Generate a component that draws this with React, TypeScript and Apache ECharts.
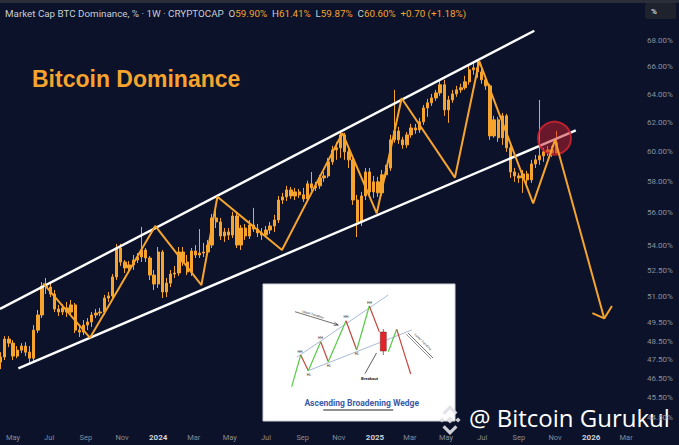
import React, { useEffect, useRef } from 'react';
import * as echarts from 'echarts';

// ---------- data ----------
const FIRST_WEEK = '2023-04-10';
const X_MIN = '2023-04-09';
const X_MAX = '2026-03-21';

const opens = [
  47.37, 47.64, 48.61, 48.39, 47.69, 48.01, 48.23, 47.90, 47.58, 49.10,
  49.94, 51.59, 51.53, 51.13, 50.28, 50.11, 50.34, 50.11, 50.51, 49.10,
  48.99, 49.38, 49.55, 49.94, 50.05, 50.11, 50.90, 51.02, 52.12, 53.84,
  53.00, 52.65, 52.83, 53.12, 53.30, 53.72, 53.24, 52.23, 51.71, 53.60,
  51.25, 51.76, 52.29, 52.35, 53.60, 53.00, 52.41, 53.66, 53.42, 53.54,
  53.60, 54.02, 55.69, 55.44, 54.57, 54.82, 54.63, 55.81, 54.02, 55.06,
  54.57, 55.25, 55.00, 54.76, 54.63, 54.94, 55.19, 55.56, 56.82, 57.02,
  57.47, 57.08, 57.34, 57.15, 56.89, 57.86, 57.60, 57.73, 58.25, 58.38,
  59.31, 60.11, 60.25, 61.13, 59.98, 59.44, 56.82, 55.44, 57.08, 58.64,
  57.34, 57.99, 57.28, 58.45, 58.90, 60.79, 61.40, 60.79, 60.45, 61.13,
  61.61, 61.47, 62.03, 63.01, 63.37, 63.72, 64.08, 64.67, 62.87, 63.58,
  64.01, 64.30, 64.45, 64.88, 65.76, 65.91, 65.61, 65.03, 64.59, 61.06,
  62.17, 60.93, 62.45, 60.25, 58.64, 58.38, 58.25, 58.51, 58.12, 59.17,
  59.44, 59.71, 59.98, 60.11, 59.90,
];
const closes = [
  47.64, 48.61, 48.39, 47.69, 48.01, 48.23, 47.90, 47.58, 49.10, 49.94,
  51.59, 51.53, 51.13, 50.28, 50.11, 50.34, 50.11, 50.51, 49.10, 48.99,
  49.38, 49.55, 49.94, 50.05, 50.11, 50.90, 51.02, 52.12, 53.84, 53.00,
  52.65, 52.83, 53.12, 53.30, 53.72, 53.24, 52.23, 51.71, 53.60, 51.25,
  51.76, 52.29, 52.35, 53.60, 53.00, 52.41, 53.66, 53.42, 53.54, 53.60,
  54.02, 55.69, 55.44, 54.57, 54.82, 54.63, 55.81, 54.02, 55.06, 54.57,
  55.25, 55.00, 54.76, 54.63, 54.94, 55.19, 55.56, 56.82, 57.02, 57.47,
  57.08, 57.34, 57.15, 56.89, 57.86, 57.60, 57.73, 58.25, 58.38, 59.31,
  60.11, 60.25, 61.13, 59.98, 59.44, 56.82, 55.44, 57.08, 58.64, 57.34,
  57.99, 57.28, 58.45, 58.90, 60.79, 61.40, 60.79, 60.45, 61.13, 61.61,
  61.47, 62.03, 63.01, 63.37, 63.72, 64.08, 64.67, 62.87, 63.58, 64.01,
  64.30, 64.45, 64.88, 65.76, 65.91, 65.61, 65.03, 64.59, 61.06, 62.17,
  60.93, 62.45, 60.25, 58.64, 58.38, 58.25, 58.51, 58.12, 59.17, 59.44,
  59.71, 59.98, 60.11, 59.90, 60.60,
];
const lows = [
  47.00, 47.48, 48.17, 47.48, 47.58, 47.85, 47.69, 47.32, 47.37, 48.94,
  49.77, 51.13, 50.96, 50.11, 49.88, 49.94, 49.83, 50.00, 48.94, 48.72,
  48.83, 49.10, 49.27, 49.77, 49.88, 49.94, 50.68, 50.85, 51.94, 52.77,
  52.35, 52.41, 52.53, 52.94, 53.00, 53.00, 51.94, 51.36, 51.48, 50.90,
  50.96, 51.53, 52.06, 52.18, 52.77, 52.23, 52.18, 53.24, 53.24, 53.30,
  53.48, 53.84, 55.06, 54.33, 54.21, 54.33, 54.45, 53.84, 53.72, 54.33,
  54.39, 54.82, 54.51, 54.33, 54.51, 54.70, 54.82, 55.37, 56.57, 56.76,
  56.89, 56.82, 56.95, 56.70, 56.76, 57.40, 57.40, 57.53, 57.99, 58.25,
  59.11, 59.44, 59.57, 59.44, 58.90, 56.51, 54.51, 55.19, 56.82, 57.08,
  56.95, 57.02, 57.08, 58.25, 58.71, 60.59, 60.52, 60.18, 60.25, 60.93,
  61.20, 61.27, 61.82, 62.38, 63.15, 63.51, 63.87, 62.45, 61.96, 63.37,
  63.80, 64.08, 64.30, 64.67, 65.40, 65.18, 64.74, 64.30, 60.79, 60.93,
  60.65, 60.45, 59.98, 58.25, 57.99, 57.92, 57.28, 57.86, 57.92, 58.90,
  59.11, 59.31, 59.71, 59.64, 59.87,
];
const highs = [
  47.90, 48.77, 48.77, 48.55, 48.23, 48.39, 48.44, 48.23, 49.38, 50.22,
  51.82, 52.06, 51.76, 51.36, 50.51, 50.56, 50.68, 50.79, 50.62, 49.38,
  49.66, 49.77, 50.11, 50.28, 50.34, 51.08, 51.25, 52.29, 54.09, 54.09,
  53.12, 53.06, 53.42, 53.54, 55.13, 53.84, 53.36, 52.53, 53.90, 53.72,
  52.06, 52.53, 52.77, 53.90, 53.90, 53.42, 53.84, 54.02, 55.00, 54.15,
  54.33, 55.94, 56.38, 55.69, 55.06, 55.06, 56.07, 56.00, 55.25, 55.31,
  55.56, 56.32, 55.31, 55.06, 55.19, 55.44, 55.88, 57.08, 57.28, 57.73,
  57.66, 57.60, 57.53, 57.60, 58.06, 58.64, 57.99, 58.45, 58.64, 59.57,
  60.38, 60.65, 61.40, 61.27, 60.25, 59.57, 57.15, 57.34, 58.90, 58.90,
  58.38, 58.32, 58.77, 59.11, 61.13, 64.30, 61.68, 61.00, 61.33, 61.89,
  61.89, 62.31, 63.22, 63.65, 64.01, 64.30, 64.96, 65.03, 63.87, 64.30,
  64.59, 64.74, 65.32, 66.06, 66.28, 66.43, 65.83, 65.25, 64.74, 62.45,
  62.38, 62.66, 62.59, 60.45, 58.90, 58.58, 58.77, 58.71, 59.44, 59.77,
  63.58, 60.25, 60.38, 60.38, 61.41,
];

// drawn channel, zig-zag projection and highlight (date, value)
const upperChannel: [string, number][] = [['2023-04-09', 50.28], ['2025-09-27', 68.71]];
const lowerChannel: [string, number][] = [['2023-05-10', 47.04], ['2025-12-06', 61.44]];
const zigzag: [string, number][] = [
  ['2023-06-21', 51.75], ['2023-09-08', 48.68], ['2023-12-27', 55.19], ['2024-03-14', 51.65],
  ['2024-04-10', 57.03], ['2024-07-28', 53.72], ['2024-11-07', 61.25], ['2025-01-04', 55.98],
  ['2025-02-15', 63.70], ['2025-05-16', 58.27], ['2025-06-26', 66.40], ['2025-09-25', 56.61],
  ['2025-11-01', 60.79], ['2026-01-23', 49.75],
];
const arrowHead: [string, number][] = [['2026-01-03', 50.05], ['2026-01-23', 49.75], ['2026-02-05', 50.45]];
const highlight: [string, number][] = [['2025-10-31', 60.91]];

const xTickDates = [
  '2023-05-01', '2023-07-01', '2023-09-01', '2023-11-01', '2024-01-01', '2024-03-01',
  '2024-05-01', '2024-07-01', '2024-09-01', '2024-11-01', '2025-01-01', '2025-03-01',
  '2025-05-01', '2025-07-01', '2025-09-01', '2025-11-01', '2026-01-01', '2026-03-01',
];
const xTickLabels = [
  'May', 'Jul', 'Sep', 'Nov', '2024', 'Mar', 'May', 'Jul', 'Sep', 'Nov', '2025', 'Mar',
  'May', 'Jul', 'Sep', 'Nov', '2026', 'Mar',
];
const yTicks = [68, 66, 64, 62, 60, 58, 56, 54, 52.5, 51, 49.5, 48.5, 47.5, 46.5, 45.5, 44.5];

const headerName = 'Market Cap BTC Dominance, % · 1W · CRYPTOCAP';
const headerOHLC: [string, string][] = [['O', '59.90%'], ['H', '61.41%'], ['L', '59.87%'], ['C', '60.60%']];
const headerChange = '+0.70 (+1.18%)';

// ---------- helpers ----------
const DAY = 86400000;
const ts = (d: string) => Date.parse(d + 'T00:00:00Z');
const pts = (arr: [string, number][]) => arr.map(([d, v]) => [ts(d), v]);

const ORANGE = '#f6a42e';
const BG = '#0b1229';
const FONT = 'Roboto, "Liberation Sans", Arial, sans-serif';

function insetGraphic() {
  const L = (x1: number, y1: number, x2: number, y2: number, stroke: string, lineWidth = 1.2) => ({
    type: 'line', shape: { x1, y1, x2, y2 }, style: { stroke, lineWidth }, silent: true,
  });
  const G = '#55cc44';
  const R = '#c4473f';
  const T = (text: string, x: number, y: number, size: number, extra: any = {}) => ({
    type: 'text', x, y, silent: true,
    style: { text, fontSize: size, fill: '#333', fontFamily: FONT, align: 'center', verticalAlign: 'middle', ...extra.style },
    ...extra.el,
  });
  return {
    type: 'group', silent: true, z: 50,
    children: [
      { type: 'rect', shape: { x: 263, y: 284, width: 192, height: 137 }, style: { fill: '#ffffff', stroke: '#cfd3da', lineWidth: 1 } },
      L(296.7, 357.3, 388.3, 295, '#a9bbd6', 1),
      L(308.3, 370.7, 411.7, 330, '#a9bbd6', 1),
      L(291.7, 386.7, 300.7, 355, G), L(300.7, 355, 308.3, 370.7, R),
      L(308.3, 370.7, 320.7, 341.7, G), L(320.7, 341.7, 328.3, 361.7, R),
      L(328.3, 361.7, 346, 320.7, G), L(346, 320.7, 356.7, 350, R),
      L(356.7, 350, 369.3, 306, G), L(369.3, 306, 379.3, 331.7, R),
      L(383.3, 329, 383.3, 355, '#555', 0.8),
      { type: 'rect', shape: { x: 380.3, y: 332, width: 6, height: 19 }, style: { fill: '#e0262b', stroke: '#7a2020', lineWidth: 0.5 } },
      L(388.3, 351.7, 396.7, 329.3, G), L(396.7, 329.3, 410.7, 374, R),
      T('HH', 300, 351.5, 3.5), T('HH', 320.5, 338, 3.5), T('HH', 346, 317, 3.5), T('HH', 369.5, 302.5, 3.5),
      T('HL', 309, 374.5, 3.5), T('HL', 329, 365.5, 3.5), T('HL', 357, 354, 3.5),
      L(295, 311.7, 338.3, 325, '#333', 0.7),
      { type: 'polyline', shape: { points: [[334.5, 322.2], [338.3, 325], [333.6, 325.4]] }, style: { stroke: '#333', fill: null, lineWidth: 0.7 } },
      T('Upper Trendline', 313, 314.5, 3.2, { el: { rotation: -0.3 } }),
      L(433, 358, 408, 333, '#333', 0.7),
      L(431, 359, 406, 334, '#333', 0.5),
      T('Lower Trendline', 423, 342, 3.2, { el: { rotation: -0.78 } }),
      L(365, 373.5, 376.5, 353, '#333', 0.8),
      T('Breakout', 369.5, 378.5, 4.2, { style: { fontWeight: 'bold', fill: '#222' } }),
      T('Ascending Broadening Wedge', 361.7, 402.7, 8.5, { style: { fontWeight: 'bold', fill: '#3b5ba8' } }),
      L(323.3, 410, 393.3, 410, '#222', 1),
    ],
  };
}

function watermarkGraphic() {
  const c = 'rgba(225,225,230,0.92)';
  const cx = 450, cy = 420;
  const diamond = (x: number, y: number, h: number) => ({
    type: 'polygon', shape: { points: [[x, y - h], [x + h, y], [x, y + h], [x - h, y]] }, style: { fill: c },
  });
  return {
    type: 'group', silent: true, z: 60,
    children: [
      diamond(cx, cy, 3.6),
      diamond(cx - 8, cy, 2.6),
      diamond(cx + 8, cy, 2.6),
      { type: 'polygon', shape: { points: [[cx, cy - 15], [cx + 7.5, cy - 7.5], [cx + 5.3, cy - 5.3], [cx, cy - 10.6], [cx - 5.3, cy - 5.3], [cx - 7.5, cy - 7.5]] }, style: { fill: c } },
      { type: 'polygon', shape: { points: [[cx, cy + 15], [cx + 7.5, cy + 7.5], [cx + 5.3, cy + 5.3], [cx, cy + 10.6], [cx - 5.3, cy + 5.3], [cx - 7.5, cy + 7.5]] }, style: { fill: c } },
      {
        type: 'text', x: 469, y: 417,
        style: { text: '@ Bitcoin Gurukul', fontSize: 24, fill: '#ffffff', fontFamily: '"Open Sans", "Noto Sans", sans-serif', verticalAlign: 'middle', align: 'left' },
      },
    ],
  };
}

export default function App() {
  const ref = useRef<HTMLDivElement>(null);
  useEffect(() => {
    const chart = echarts.init(ref.current!, null, { renderer: 'svg' });
    const start = ts(FIRST_WEEK);
    const candles = opens.map((o, i) => [start + i * 7 * DAY, o, closes[i], lows[i], highs[i]]);
    const xTickValues = xTickDates.map(ts);
    const labelOf = new Map<number, string>();
    xTickValues.forEach((v, i) => labelOf.set(v, xTickLabels[i]));

    const headerText =
      `{n|${headerName}}  ` +
      headerOHLC.map(([k, v]) => `{k|${k}}{v|${v}}`).join('  ') +
      `  {v|${headerChange}}`;

    const option: any = {
      animation: false,
      backgroundColor: BG,
      grid: { left: 0, top: 25, width: 638, height: 400 },
      xAxis: {
        type: 'value',
        min: ts(X_MIN),
        max: ts(X_MAX),
        axisLine: { show: false },
        axisTick: { show: false },
        splitLine: { show: false },
        axisLabel: {
          customValues: xTickValues,
          margin: 8,
          fontSize: 7.5,
          color: '#868b97',
          fontFamily: FONT,
          formatter: (v: number) => {
            const s = labelOf.get(v) ?? '';
            return /^\d{4}$/.test(s) ? `{yr|${s}}` : s;
          },
          rich: { yr: { fontSize: 8, fontWeight: 'bold', color: '#cfd2da', fontFamily: FONT } },
        },
      },
      yAxis: {
        type: 'log',
        logBase: 10,
        min: 44.14,
        max: 69.155,
        position: 'right',
        axisLine: { show: false },
        axisTick: { show: false },
        splitLine: { show: false },
        axisLabel: {
          customValues: yTicks,
          margin: 9,
          fontSize: 8,
          color: '#8c909b',
          fontFamily: FONT,
          formatter: (v: number) => `${Number(v).toFixed(2)}%`,
        },
      },
      series: [
        {
          type: 'candlestick',
          data: candles,
          barWidth: 2.8,
          z: 2,
          silent: true,
          itemStyle: {
            color: ORANGE, color0: ORANGE, borderColor: ORANGE, borderColor0: ORANGE, borderWidth: 1,
          },
        },
        {
          type: 'line', data: pts(upperChannel), symbol: 'none', z: 3, silent: true,
          lineStyle: { color: '#ffffff', width: 2.4 },
        },
        {
          type: 'line', data: pts(lowerChannel), symbol: 'none', z: 3, silent: true,
          lineStyle: { color: '#ffffff', width: 2.4 },
        },
        {
          type: 'scatter', data: pts(highlight), symbol: 'circle', symbolSize: 33, z: 4, silent: true,
          itemStyle: { color: 'rgba(200,30,45,0.62)', borderColor: '#d9252f', borderWidth: 2 },
        },
        {
          type: 'line', data: pts(zigzag), symbol: 'none', z: 5, silent: true,
          lineStyle: { color: ORANGE, width: 2 },
        },
        {
          type: 'line', data: pts(arrowHead), symbol: 'none', z: 5, silent: true,
          lineStyle: { color: ORANGE, width: 2 },
        },
      ],
      graphic: [
        { type: 'rect', shape: { x: 0, y: 0, width: 679, height: 3 }, style: { fill: '#2a2e39' }, silent: true },
        {
          type: 'text', x: 5, y: 13, silent: true,
          style: {
            text: headerText, verticalAlign: 'middle', fontSize: 9.8, fontFamily: FONT, fill: '#c9ccd4',
            rich: {
              n: { fontSize: 9.8, fill: '#c9ccd4', fontFamily: FONT },
              k: { fontSize: 9.8, fill: '#c9ccd4', fontFamily: FONT },
              v: { fontSize: 9.8, fill: ORANGE, fontFamily: FONT },
            },
          },
        },
        { type: 'rect', shape: { x: 645, y: 3, width: 31, height: 16, r: 2 }, style: { fill: '#1e222d' }, silent: true },
        {
          type: 'text', x: 651, y: 11.5, silent: true,
          style: { text: '%', fontSize: 8, fontWeight: 'bold', fill: '#d1d4dc', fontFamily: FONT, verticalAlign: 'middle' },
        },
        {
          type: 'text', x: 32, y: 79, silent: true,
          style: {
            text: 'Bitcoin Dominance', fontSize: 23, fontWeight: 'bold', fill: ORANGE,
            fontFamily: '"Liberation Sans", Arial, sans-serif', verticalAlign: 'middle',
          },
        },
        insetGraphic(),
        watermarkGraphic(),
      ],
    };
    chart.setOption(option);
    return () => chart.dispose();
  }, []);
  return <div ref={ref} style={{ position: 'fixed', left: 0, top: 0, width: 679, height: 445 }} />;
}
